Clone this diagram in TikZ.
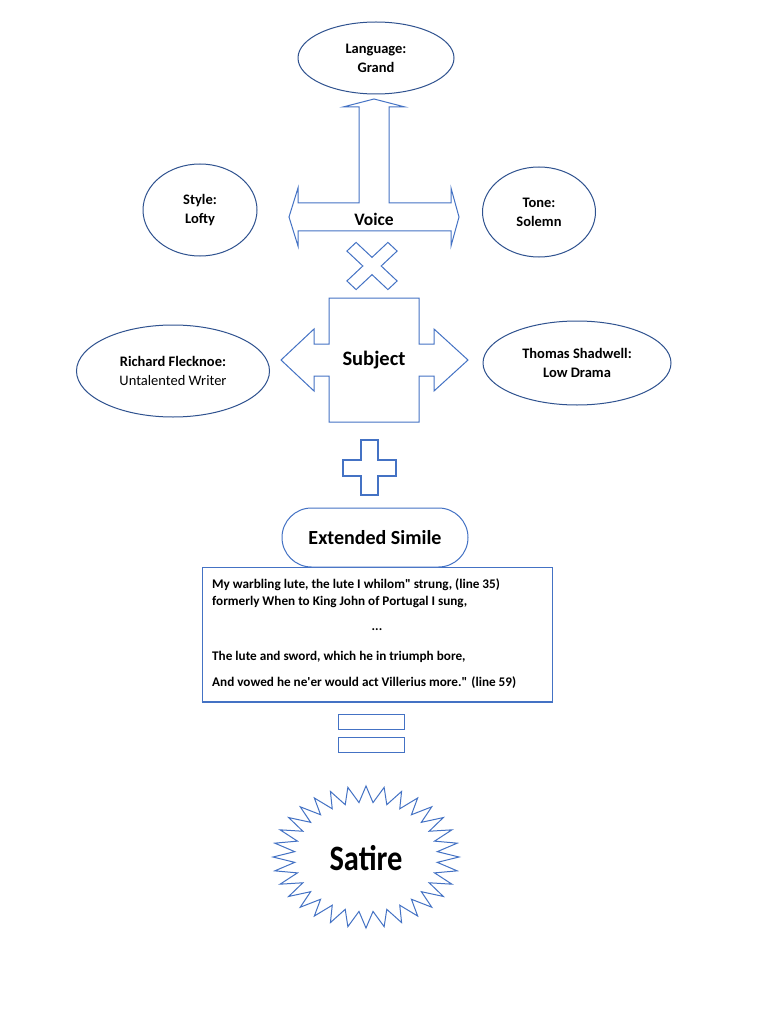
\documentclass[tikz,border=0pt]{standalone}
\usepackage{fontspec}
\setmainfont{Carlito}
\usetikzlibrary{shapes.geometric}
\definecolor{shapeblue}{HTML}{4472C4}
\definecolor{ovalblue}{HTML}{2F528F}
\begin{document}
\begin{tikzpicture}[x=1pt,y=-1pt, line join=miter,
  oval/.style={ellipse, draw=ovalblue, line width=1pt, inner sep=0pt, align=center,
    font=\fontsize{14.5}{19}\selectfont\bfseries},
  shp/.style={draw=shapeblue, line width=1pt, fill=white},
  biglbl/.style={inner sep=0pt, font=\fontsize{20.5}{24}\selectfont\bfseries},
  quoteline/.style={anchor=west, inner sep=0pt, font=\fontsize{13.2}{16}\selectfont\bfseries}
]
\useasboundingbox[fill=white] (0,0) rectangle (768,1024);

% Voice arrow
\draw[shp] (374,99) -- (405,107) -- (389,107) -- (389,203) -- (451,203) -- (451,188)
  -- (459,217) -- (451,246) -- (451,231) -- (298,231) -- (298,246) -- (289,217)
  -- (298,188) -- (298,203) -- (359,203) -- (359,107) -- (343,107) -- cycle;
\node[inner sep=0pt, font=\fontsize{17.5}{20}\selectfont\bfseries] (voice) at (374,219) {Voice};

% Ovals
\node[oval, minimum width=156, minimum height=72] (lang) at (376,58) {Language:\\Grand};
\node[oval, minimum width=114, minimum height=92] (style) at (200,210) {Style:\\Lofty};
\node[oval, minimum width=113, minimum height=90] (tone) at (539,212) {Tone:\\Solemn};
\node[oval, minimum width=193, minimum height=92] (richard) at (173,371)
  {Richard Flecknoe:\\\mdseries Untalented Writer};
\node[oval, minimum width=188, minimum height=84] (thomas) at (577,363)
  {Thomas Shadwell:\\Low Drama};

% Multiply sign
\begin{scope}[shift={(372,266)}, yscale=0.94, rotate=45]
\draw[shp] (6.5,-29) -- (6.5,-6.5) -- (29,-6.5) -- (29,6.5) -- (6.5,6.5) -- (6.5,29)
  -- (-6.5,29) -- (-6.5,6.5) -- (-29,6.5) -- (-29,-6.5) -- (-6.5,-6.5) -- (-6.5,-29) -- cycle;
\end{scope}

% Subject arrow
\draw[shp] (329,298) -- (419,298) -- (419,344) -- (434,344) -- (434,329) -- (468,360)
  -- (434,391) -- (434,376) -- (419,376) -- (419,422) -- (329,422) -- (329,376)
  -- (314,376) -- (314,391) -- (281,360) -- (314,329) -- (314,344) -- (329,344) -- cycle;
\node[biglbl] (subject) at (374,360) {Subject};

% Plus sign
\draw[shp, line width=1.3pt] (361,440) -- (378,440) -- (378,460) -- (396,460) -- (396,476)
  -- (378,476) -- (378,495) -- (361,495) -- (361,476) -- (343,476) -- (343,460)
  -- (361,460) -- cycle;

% Quote box
\node[draw=shapeblue, line width=1pt, minimum width=350, minimum height=134, inner sep=0pt]
  (quote) at (377,634) {};
\draw[shapeblue, line width=2pt] (quote.south west) -- (quote.south east);
\node[quoteline] (q1) at (212,585) {My warbling lute, the lute I whilom\textquotedbl{} strung, (line 35)};
\node[quoteline] (q2) at (212,602) {formerly When to King John of Portugal I sung,};
\node[inner sep=0pt, font=\fontsize{13.2}{16}\selectfont\bfseries] (q3) at (377,630) {...};
\node[quoteline] (q4) at (212,657) {The lute and sword, which he in triumph bore,};
\node[quoteline] (q5) at (212,683) {And vowed he ne\textquotesingle er would act Villerius more.\textquotedbl{} (line 59)};

% Extended simile
\node[shp, rounded corners=29.5, minimum width=186, minimum height=59, inner sep=0pt,
  font=\fontsize{20}{24}\selectfont\bfseries] (simile) at (375,537.5) {Extended Simile};

% Equals sign
\draw[shp] (338,714) rectangle (404,729);
\draw[shp] (338,737) rectangle (404,752);

% Star
\draw[shp] (366,786) foreach \k [evaluate=\k as \r using {mod(\k,2)==0 ? 1 : 0.77}] in {1,...,63}
  { -- ({366+93*\r*sin(\k*5.625)},{857-71*\r*cos(\k*5.625)}) } -- cycle;
\node[inner sep=0pt, font=\fontsize{30.5}{34}\selectfont\bfseries] (satire) at (366,858)
  {\scalebox{1}[1.17]{Satire}};
\end{tikzpicture}
\end{document}
